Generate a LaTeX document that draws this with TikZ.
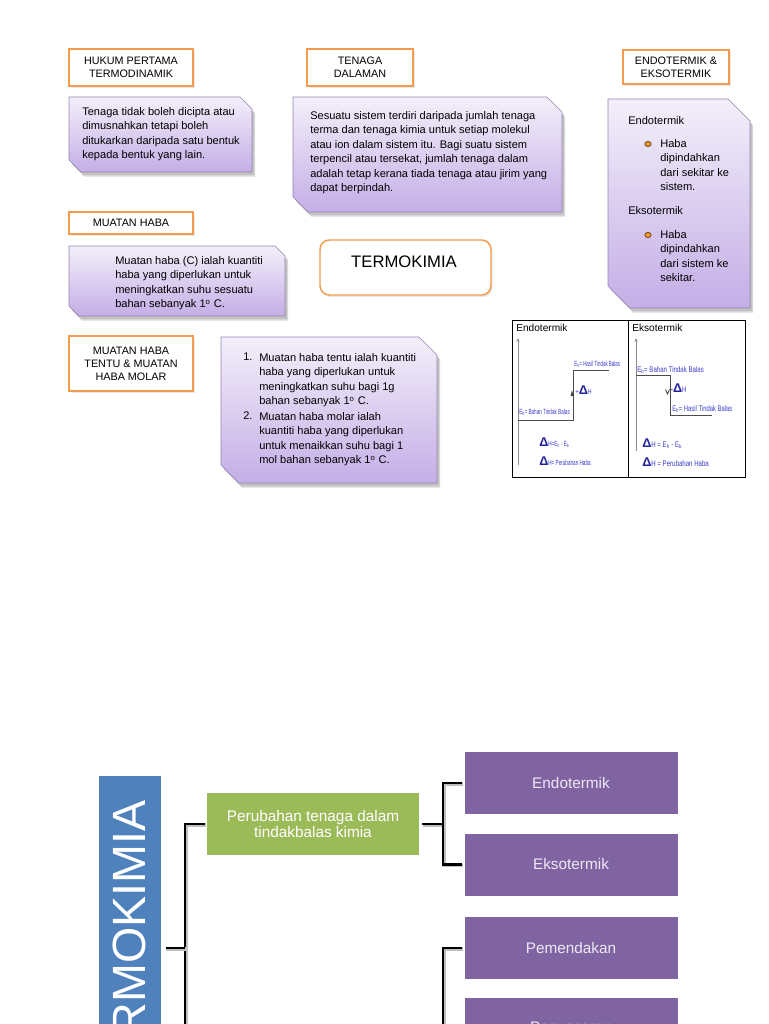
\documentclass[tikz,border=0pt]{standalone}
\usepackage{fontspec}
\usepackage{graphicx}
\setmainfont{Liberation Sans}
\usetikzlibrary{shadows,arrows.meta}
\definecolor{orng}{HTML}{F59B4C}
\definecolor{notetop}{HTML}{F3EFFA}
\definecolor{notebot}{HTML}{C4AEE6}
\definecolor{noteedge}{HTML}{9484B4}
\definecolor{barblue}{HTML}{4F81BD}
\definecolor{grn}{HTML}{9BBB59}
\definecolor{purp}{HTML}{8064A2}
\definecolor{lav}{HTML}{EEE8F6}
\definecolor{dblue}{HTML}{23239E}
\definecolor{lblue}{HTML}{3C3CCF}
\definecolor{bulor}{HTML}{E89A2C}
\definecolor{bulbr}{HTML}{6B3C0C}
\newcommand{\notebox}[5]{%
  \fill[black,opacity=0.10] ({#1+2},{#2+3}) -- ({#3-#5+2},{#2+3}) -- ({#3+2},{#2+#5+3}) -- ({#3+2},{#4+3}) -- ({#1+#5+2},{#4+3}) -- ({#1+2},{#4-#5+3}) -- cycle;
  \fill[black,opacity=0.15] ({#1+3},{#2+4.5}) -- ({#3-#5+3},{#2+4.5}) -- ({#3+3},{#2+#5+4.5}) -- ({#3+3},{#4+4.5}) -- ({#1+#5+3},{#4+4.5}) -- ({#1+3},{#4-#5+4.5}) -- cycle;
  \shadedraw[top color=notetop,bottom color=notebot,draw=noteedge,line width=0.4pt] (#1,#2) -- ({#3-#5},#2) -- (#3,{#2+#5}) -- (#3,#4) -- ({#1+#5},#4) -- (#1,{#4-#5}) -- cycle;}
\newcommand{\dlt}{{\fontsize{9.5}{9.5}\selectfont\bfseries\color{dblue}Δ}}
\newcommand{\sm}[2]{\scalebox{#1}[1]{#2}}
\newcommand{\gembullet}[2]{%
  \filldraw[fill=bulor,draw=bulbr,line width=0.5pt] (#1,#2) ellipse (3.2 and 2.6);}
\begin{document}
\begin{tikzpicture}[x=0.75pt,y=-0.75pt,
  lbl/.style={draw=orng,line width=1.1pt,fill=white,align=center,inner sep=0pt,
    font=\fontsize{8.1}{9.8}\selectfont,
    drop shadow={shadow xshift=1.2pt,shadow yshift=-1.5pt,opacity=0.18}},
  ntxt/.style={anchor=north west,align=left,inner sep=0pt,font=\fontsize{8.3}{10.9}\selectfont},
  etitle/.style={anchor=base west,inner sep=0pt,font=\fontsize{7.6}{9}\selectfont},
  elab/.style={anchor=base west,inner sep=0pt,text=lblue,font=\fontsize{5.6}{6}\selectfont},
  pbox/.style={fill=purp,minimum width=159.75pt,minimum height=46.5pt,inner sep=0pt,
    text=lav,font=\fontsize{11.5}{13}\selectfont},
  gbox/.style={fill=grn,minimum width=159pt,minimum height=46.5pt,inner sep=0pt,
    text=white,align=center,font=\fontsize{11.5}{12}\selectfont},
  conn/.style={line width=2.2pt,black,
    preaction={draw=black!25,line width=2.6pt,transform canvas={xshift=0.7pt,yshift=-0.9pt}}}]
\useasboundingbox (0,0) rectangle (768,1024);
\clip (0,0) rectangle (768,1024);
\fill[white] (0,0) rectangle (768,1024);

% ---------- orange title boxes ----------
\node[lbl,minimum width=93pt,minimum height=27.75pt] (hukum) at (131,67.5) {HUKUM PERTAMA\\TERMODINAMIK};
\node[lbl,minimum width=79.5pt,minimum height=27.75pt] (tenaga) at (360,67.5) {TENAGA\\DALAMAN};
\node[lbl,minimum width=79.5pt,minimum height=25.5pt] (endoekso) at (676,67) {ENDOTERMIK \&\\EKSOTERMIK};
\node[lbl,minimum width=93pt,minimum height=16.5pt] (muatan) at (131,223) {MUATAN HABA};
\node[lbl,minimum width=93pt,minimum height=41.25pt] (tentu) at (131,363.5) {MUATAN HABA\\TENTU \& MUATAN\\HABA MOLAR};
\node[draw=orng,line width=1.1pt,fill=white,rounded corners=7pt,minimum width=128.25pt,minimum height=41.25pt,
  drop shadow={shadow xshift=1.2pt,shadow yshift=-1.5pt,opacity=0.18}] (termobox) at (405.5,267.5) {};
\node[inner sep=0pt,font=\fontsize{12.5}{14}\selectfont] (termotxt) at (404,262) {TERMOKIMIA};

% ---------- purple notes ----------
\notebox{69}{97}{252}{172}{12}
\node[ntxt] (n1) at (82,107) {Tenaga tidak boleh dicipta atau\\dimusnahkan tetapi boleh\\ditukarkan daripada satu bentuk\\kepada bentuk yang lain.};

\notebox{293}{97}{562}{212}{15}
\node[ntxt] (n2) at (310,111) {Sesuatu sistem terdiri daripada jumlah tenaga\\terma dan tenaga kimia untuk setiap molekul\\atau ion dalam sistem itu. Bagi suatu sistem\\terpencil atau tersekat, jumlah tenaga dalam\\adalah tetap kerana tiada tenaga atau jirim yang\\dapat berpindah.};

\notebox{608}{99}{750}{308}{22}
\node[ntxt] (n3a) at (628,116) {Endotermik};
\gembullet{648}{144}
\node[ntxt] (n3b) at (660,139) {Haba\\dipindahkan\\dari sekitar ke\\sistem.};
\node[ntxt] (n3c) at (628,206) {Eksotermik};
\gembullet{648}{235}
\node[ntxt] (n3d) at (660,230) {Haba\\dipindahkan\\dari sistem ke\\sekitar.};

\notebox{69}{246}{285}{316}{10}
\node[ntxt] (n4) at (115,256) {Muatan haba (C) ialah kuantiti\\haba yang diperlukan untuk\\meningkatkan suhu sesuatu\\bahan sebanyak 1\textsuperscript{o} C.};

\notebox{221}{337}{437}{483}{18}
\node[ntxt] (n5a) at (243,353) {1.};
\node[ntxt] (n5b) at (259,353) {Muatan haba tentu ialah kuantiti\\haba yang diperlukan untuk\\meningkatkan suhu bagi 1g\\bahan sebanyak 1\textsuperscript{o} C.};
\node[ntxt] (n5c) at (243,412) {2.};
\node[ntxt] (n5d) at (259,412) {Muatan haba molar ialah\\kuantiti haba yang diperlukan\\untuk menaikkan suhu bagi 1\\mol bahan sebanyak 1\textsuperscript{o} C.};

% ---------- energy diagram ----------
\draw[black,line width=0.6pt] (512,320) rectangle (745,477);
\draw[black,line width=0.6pt] (628,320) -- (628,477);
\node[etitle] (endt) at (516,331) {Endotermik};
\node[etitle] (eksot) at (632,331) {Eksotermik};
% endothermic
\draw[black!45,line width=0.6pt,-{Stealth[length=3pt,width=2.4pt]}] (518,465) -- (518,338);
\draw[black!70,line width=0.7pt] (518,420) -- (573,420) -- (573,370) -- (609,370);
\fill[black!75] (570.6,396) -- (573.4,396) -- (572,390) -- cycle;
\node[elab] (eh1) at (574,366) {\sm{0.6}{E\textsubscript{h}= Hasil Tindak Balas}};
\node[elab] (dh1) at (575,394) {\sm{0.8}{+}\dlt\sm{0.7}{H}};
\node[elab] (eb1) at (519,414) {\sm{0.62}{E\textsubscript{b}= Bahan Tindak Balas}};
\node[elab] (f1) at (539,446) {\dlt\sm{0.62}{H=E\textsubscript{h} - E\textsubscript{b}}};
\node[elab] (p1t) at (539,465) {\dlt\sm{0.62}{H= Perubahan Haba}};
% exothermic
\draw[black!45,line width=0.6pt,-{Stealth[length=3pt,width=2.4pt]}] (636,451) -- (636,338);
\draw[black!70,line width=0.7pt] (636,375) -- (670,375) -- (670,415) -- (712,415);
\draw[black!75,line width=0.6pt] (665.5,389.5) -- (667.5,394) -- (669.5,389.5);
\node[elab] (eb2) at (637,372) {\sm{0.75}{\fontsize{6.1}{7}\selectfont E\textsubscript{b}= Bahan Tindak Balas}};
\node[elab] (dh2) at (670,392) {\sm{0.9}{\fontsize{7}{7}\selectfont\color{dblue}-}\dlt\sm{0.75}{\fontsize{6.1}{7}\selectfont H}};
\node[elab] (eh2) at (672,411) {\sm{0.72}{\fontsize{6.1}{7}\selectfont E\textsubscript{h}= Hasil Tindak Balas}};
\node[elab] (f2) at (642,447) {\dlt\sm{0.75}{\fontsize{6.1}{7}\selectfont H = E\textsubscript{h} - E\textsubscript{b}}};
\node[elab] (p2t) at (642,466) {\dlt\sm{0.75}{\fontsize{6.1}{7}\selectfont H = Perubahan Haba}};

% ---------- bottom chart ----------
\node[fill=barblue,minimum width=46.5pt,minimum height=400pt,inner sep=0pt,anchor=north west] (bar) at (99,776) {};
\node[anchor=base east,rotate=90,inner sep=0pt,text=white,font=\fontsize{35}{40}\selectfont] (bartxt) at (145,800) {TERMOKIMIA};

\node[gbox] (green) at (313,824) {Perubahan tenaga dalam\\tindakbalas kimia};
\node[pbox] (pa) at (571,783) {Endotermik};
\node[pbox] (pb) at (571,864.5) {Eksotermik};
\node[pbox] (pc) at (571,948) {Pemendakan};
\node[pbox] (pd) at (571,1029) {Penyesaran};

\coordinate (v1) at (185,1040);
\coordinate (j1) at (185,948);
\coordinate (j2) at (443,824);
\coordinate (v2) at (443,1040);

\draw[conn] ([xshift=-1.5pt]green.west) -| (v1);
\draw[conn] ([xshift=3pt]bar.east |- j1) -- (j1);
\draw[conn] ([xshift=2pt]green.east) -- (j2);
\draw[conn] ([xshift=-1.5pt]pa.west) -| (j2) |- ([xshift=-1.5pt]pb.west);
\draw[conn] ([xshift=-1.5pt]pc.west) -| (v2);
\end{tikzpicture}
\end{document}
